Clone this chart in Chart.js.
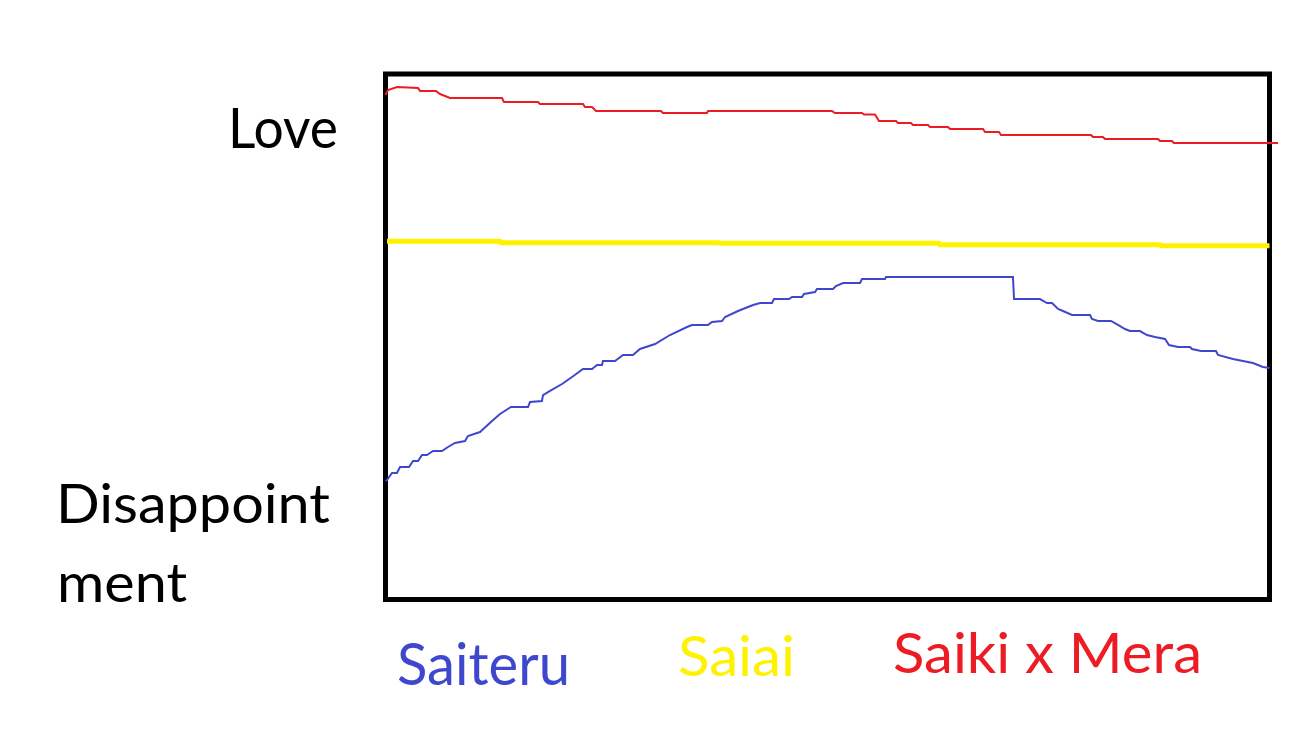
<!DOCTYPE html>
<html>
<head>
<meta charset="utf-8">
<script src="https://cdn.jsdelivr.net/npm/chart.js@4.4.0/dist/chart.umd.min.js"></script>
<style>
html,body{margin:0;background:#fff}
#wrap{position:relative;width:1316px;height:744px}
</style>
</head>
<body>
<div id="wrap"><canvas id="chart"></canvas></div>
<script>
// axis words and series names
const yLabels = ["Love", ["Disappoint", "ment"]];
const seriesNames = ["Saiteru", "Saiai", "Saiki x Mera"];
const seriesColors = ["#3F48CC", "#FFF200", "#ED1C24"];

// Saiteru (blue)
const saiteruX = [0,0.17,0.73,1.30,1.64,2.66,3.11,3.68,4.13,4.69,5.37,6.39,7.07,7.86,8.99,9.33,10.69,12.05,12.95,14.20,16.12,16.35,17.70,17.82,18.61,19.97,21.10,22.34,23.36,23.93,24.49,24.60,25.96,26.87,28.00,28.79,30.49,32.18,34.11,34.67,36.48,36.93,38.07,38.41,39.88,41.58,42.37,43.72,43.95,45.65,45.99,47.12,47.34,48.59,48.81,50.62,50.96,51.75,53.68,53.90,56.50,56.62,70.98,71.10,74.04,74.83,75.40,76.08,76.64,77.66,79.70,79.92,80.60,82.07,82.86,83.65,84.22,85.35,86.14,87.05,88.18,88.63,89.65,91.01,91.23,92.25,93.95,94.17,95.87,96.99,98.13,99.26,100];
const saiteruY = [22.55,22.74,24.07,24.07,25.21,25.21,26.36,26.36,27.50,27.50,28.26,28.26,29.02,29.78,30.16,31.11,31.87,33.97,35.30,36.63,36.63,37.58,37.77,38.91,39.68,41.01,42.34,43.86,43.86,44.62,44.62,45.38,45.38,46.53,46.53,47.67,48.62,50.33,51.85,52.24,52.24,52.81,53.00,53.76,54.90,56.04,56.42,56.42,57.18,57.18,57.56,57.56,58.13,58.51,59.08,59.08,59.66,60.23,60.23,60.99,60.99,61.37,61.37,57.18,57.18,56.42,56.42,55.28,54.90,54.14,54.14,53.38,53.00,53.00,52.24,51.47,51.09,51.09,50.33,49.95,49.57,48.43,48.05,48.05,47.67,47.29,47.29,46.53,45.77,45.38,45.00,44.24,44.05];

// Saiai (yellow)
const saiaiX = [0.17,12.95,13.07,37.73,37.84,62.61,62.73,87.61,87.72,100];
const saiaiY = [68.16,68.16,67.90,67.90,67.78,67.78,67.52,67.52,67.33,67.33];

// Saiki x Mera (red)
const saikiMeraX = [0,0.28,1.30,3.68,3.90,5.71,6.17,7.30,13.18,13.40,17.25,17.48,22.34,22.57,23.36,23.81,31.16,31.39,36.36,36.48,50.50,50.84,53.90,54.13,55.37,55.82,57.75,57.97,59.44,59.67,61.37,61.60,63.63,63.86,67.59,67.82,69.40,69.63,79.81,80.03,81.16,81.39,87.39,87.61,88.97,89.19,100.97];
const saikiMeraY = [96.00,96.95,97.52,97.33,96.76,96.76,96.19,95.43,95.43,94.67,94.67,94.29,94.29,93.72,93.72,92.96,92.96,92.58,92.58,92.96,92.96,92.58,92.58,92.29,92.29,91.06,91.06,90.67,90.67,90.29,90.29,89.91,89.91,89.53,89.53,88.96,88.96,88.39,88.39,88.01,88.01,87.63,87.63,87.25,87.25,86.87,86.87];

function pts(xs, ys){
  return xs.map((x, i) => ({x: x, y: ys[i]}));
}

// draw a word at a baseline, squeezed to the width it has in the picture
function putText(ctx, text, x, base, width, size, color){
  ctx.save();
  ctx.font = size + "px Lato";
  ctx.fillStyle = color;
  ctx.textBaseline = "alphabetic";
  const m = ctx.measureText(text).width;
  ctx.translate(x, base);
  ctx.scale(width / m, 1);
  ctx.fillText(text, 0, 0);
  ctx.restore();
}

const frame = {
  id: "frame",
  beforeDatasetsDraw(chart){
    const ctx = chart.ctx, a = chart.chartArea;
    ctx.save();
    ctx.strokeStyle = "#000";
    ctx.lineWidth = 5;
    ctx.strokeRect(a.left, a.top, a.right - a.left, a.bottom - a.top);
    ctx.restore();
  },
  afterDraw(chart){
    const ctx = chart.ctx;
    putText(ctx, yLabels[0], 228, 148, 110, 56, "#000");
    putText(ctx, yLabels[1][0], 56, 523, 274, 54, "#000");
    putText(ctx, yLabels[1][1], 57, 602, 130, 54, "#000");
    putText(ctx, seriesNames[0], 397, 685, 173, 58, seriesColors[0]);
    putText(ctx, seriesNames[1], 678, 676, 117, 56, seriesColors[1]);
    putText(ctx, seriesNames[2], 893, 673, 309, 56, seriesColors[2]);
  }
};

new Chart(document.getElementById("chart"), {
  type: "line",
  data: {
    datasets: [
      {label: seriesNames[2], data: pts(saikiMeraX, saikiMeraY), borderColor: seriesColors[2], borderWidth: 2},
      {label: seriesNames[1], data: pts(saiaiX, saiaiY), borderColor: seriesColors[1], borderWidth: 5},
      {label: seriesNames[0], data: pts(saiteruX, saiteruY), borderColor: seriesColors[0], borderWidth: 2}
    ]
  },
  options: {
    responsive: true,
    maintainAspectRatio: false,
    animation: false,
    layout: {padding: {left: 385.5, top: 74, right: 46.5, bottom: 144.5}},
    elements: {
      point: {radius: 0, hoverRadius: 0},
      line: {tension: 0, borderCapStyle: "butt"}
    },
    datasets: {line: {clip: false}},
    scales: {
      x: {type: "linear", min: 0, max: 100, display: false},
      y: {type: "linear", min: 0, max: 100, display: false}
    },
    plugins: {
      legend: {display: false},
      tooltip: {enabled: false}
    }
  },
  plugins: [frame]
});
</script>
</body>
</html>
